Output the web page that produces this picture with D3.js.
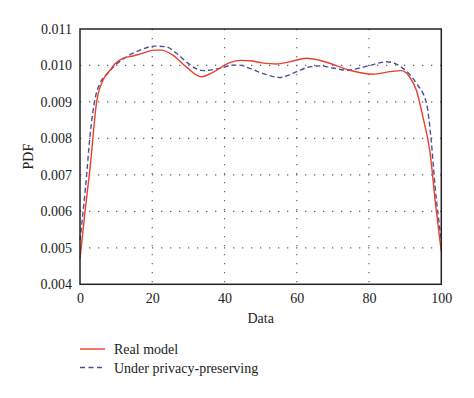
<!DOCTYPE html>
<html><head><meta charset="utf-8">
<script src="https://cdn.jsdelivr.net/npm/d3@7"></script>
<style>body{margin:0;background:#fff}svg{display:block}text{font-family:"Liberation Serif","DejaVu Serif",serif;fill:#222}</style>
</head><body>
<svg id="c" width="474" height="398"></svg>
<script>
const xTicks = [0, 20, 40, 60, 80, 100];
const yTicks = [0.004, 0.005, 0.006, 0.007, 0.008, 0.009, 0.010, 0.011];
const realX = [0, 1.4, 2.8, 4.6, 6.4, 8.3, 9.7, 12, 14.7, 17.5, 20.5, 22.5, 25.6, 29.4, 33.6, 36.9, 41.5, 44.5, 47, 50, 54.4, 58, 62.7, 66, 69.1, 74.7, 81.1, 85.7, 88.9, 91.2, 93.1, 94.9, 96.8, 98.6, 100];
const realY = [0.0047, 0.0060, 0.0072, 0.0090, 0.0096, 0.00987, 0.01005, 0.0102, 0.01026, 0.01034, 0.01042, 0.01042, 0.01029, 0.00996, 0.00969, 0.00982, 0.01008, 0.01014, 0.01013, 0.01008, 0.01004, 0.0101, 0.0102, 0.01015, 0.01006, 0.00987, 0.00976, 0.00983, 0.00986, 0.00969, 0.00932, 0.00859, 0.00767, 0.00603, 0.0049];
const privX = [0, 1.66, 2.8, 4.2, 5.5, 7.8, 9.7, 12.9, 16.6, 20.7, 23.9, 26.5, 29.4, 32, 34, 38.6, 42.4, 44.2, 47, 51, 55.3, 60, 63, 66.4, 70, 73.8, 77, 80.2, 84.8, 87, 89.4, 93.1, 95.9, 97.2, 98.2, 100];
const privY = [0.0052, 0.0068, 0.0081, 0.0091, 0.0095, 0.0098, 0.0100, 0.01024, 0.01042, 0.01053, 0.01051, 0.01035, 0.0101, 0.00992, 0.00986, 0.00992, 0.01001, 0.01001, 0.00992, 0.00977, 0.00967, 0.00983, 0.00995, 0.00999, 0.00993, 0.00987, 0.00992, 0.0100, 0.0101, 0.01006, 0.00992, 0.00951, 0.00896, 0.00795, 0.00677, 0.0052];
const seriesNames = ["Real model", "Under privacy-preserving"];
const colors = ["#e8402c", "#4a4f9c"];

const L = 80, R = 441.3, T = 29, B = 284.3;
const svg = d3.select("#c");
const x = d3.scaleLinear().domain([0, 100]).range([L, R]);
const y = d3.scaleLinear().domain([0.004, 0.011]).range([B, T]);

// grid
svg.append("g").selectAll("line").data(xTicks.slice(1, -1)).join("line")
  .attr("x1", d => x(d)).attr("x2", d => x(d)).attr("y1", T).attr("y2", B)
  .attr("stroke", "#666").attr("stroke-width", 1.2).attr("stroke-dasharray", "1.3,7.7");
svg.append("g").selectAll("line").data(yTicks.slice(1, -1)).join("line")
  .attr("x1", L).attr("x2", R).attr("y1", d => y(d)).attr("y2", d => y(d))
  .attr("stroke", "#666").attr("stroke-width", 1.2).attr("stroke-dasharray", "1.3,7.7");

// axes
const xa = svg.append("g").attr("transform", `translate(0,${B})`)
  .call(d3.axisBottom(x).tickValues(xTicks).tickSize(0).tickPadding(9).tickFormat(d3.format("d")));
const ya = svg.append("g").attr("transform", `translate(${L},0)`)
  .call(d3.axisLeft(y).tickValues(yTicks).tickSize(0).tickPadding(8).tickFormat(d3.format(".3f")));
[xa, ya].forEach(a => { a.select(".domain").remove(); a.selectAll("text").style("font-family", '"Liberation Serif",serif').style("font-size", "14px").attr("fill", "#222"); });

// lines
const line = d3.line().x(d => x(d[0])).y(d => y(d[1])).curve(d3.curveMonotoneX);
const realData = realX.map((v, i) => [v, realY[i]]);
const privData = privX.map((v, i) => [v, privY[i]]);
svg.append("path").datum(privData).attr("d", line).attr("fill", "none")
  .attr("stroke", colors[1]).attr("stroke-width", 1.4).attr("stroke-dasharray", "5,3");
svg.append("path").datum(realData).attr("d", line).attr("fill", "none")
  .attr("stroke", colors[0]).attr("stroke-width", 1.4);

// frame
svg.append("rect").attr("x", L).attr("y", T).attr("width", R - L).attr("height", B - T)
  .attr("fill", "none").attr("stroke", "#222").attr("stroke-width", 1.5);

// labels
svg.append("text").attr("x", (L + R) / 2).attr("y", 323).attr("text-anchor", "middle").style("font-size", "14px").text("Data");
svg.append("text").attr("transform", `translate(33,${(T + B) / 2}) rotate(-90)`).attr("text-anchor", "middle").style("font-size", "14px").text("PDF");

// legend
const lg = svg.append("g");
seriesNames.forEach((n, i) => {
  const yy = 349 + i * 18.5;
  lg.append("line").attr("x1", 80).attr("x2", 105).attr("y1", yy).attr("y2", yy)
    .attr("stroke", colors[i]).attr("stroke-width", 1.4).attr("stroke-dasharray", i ? "5,3.5" : null);
  lg.append("text").attr("x", 114).attr("y", yy + 5).style("font-size", "14px").text(n);
});
</script>
</body></html>
